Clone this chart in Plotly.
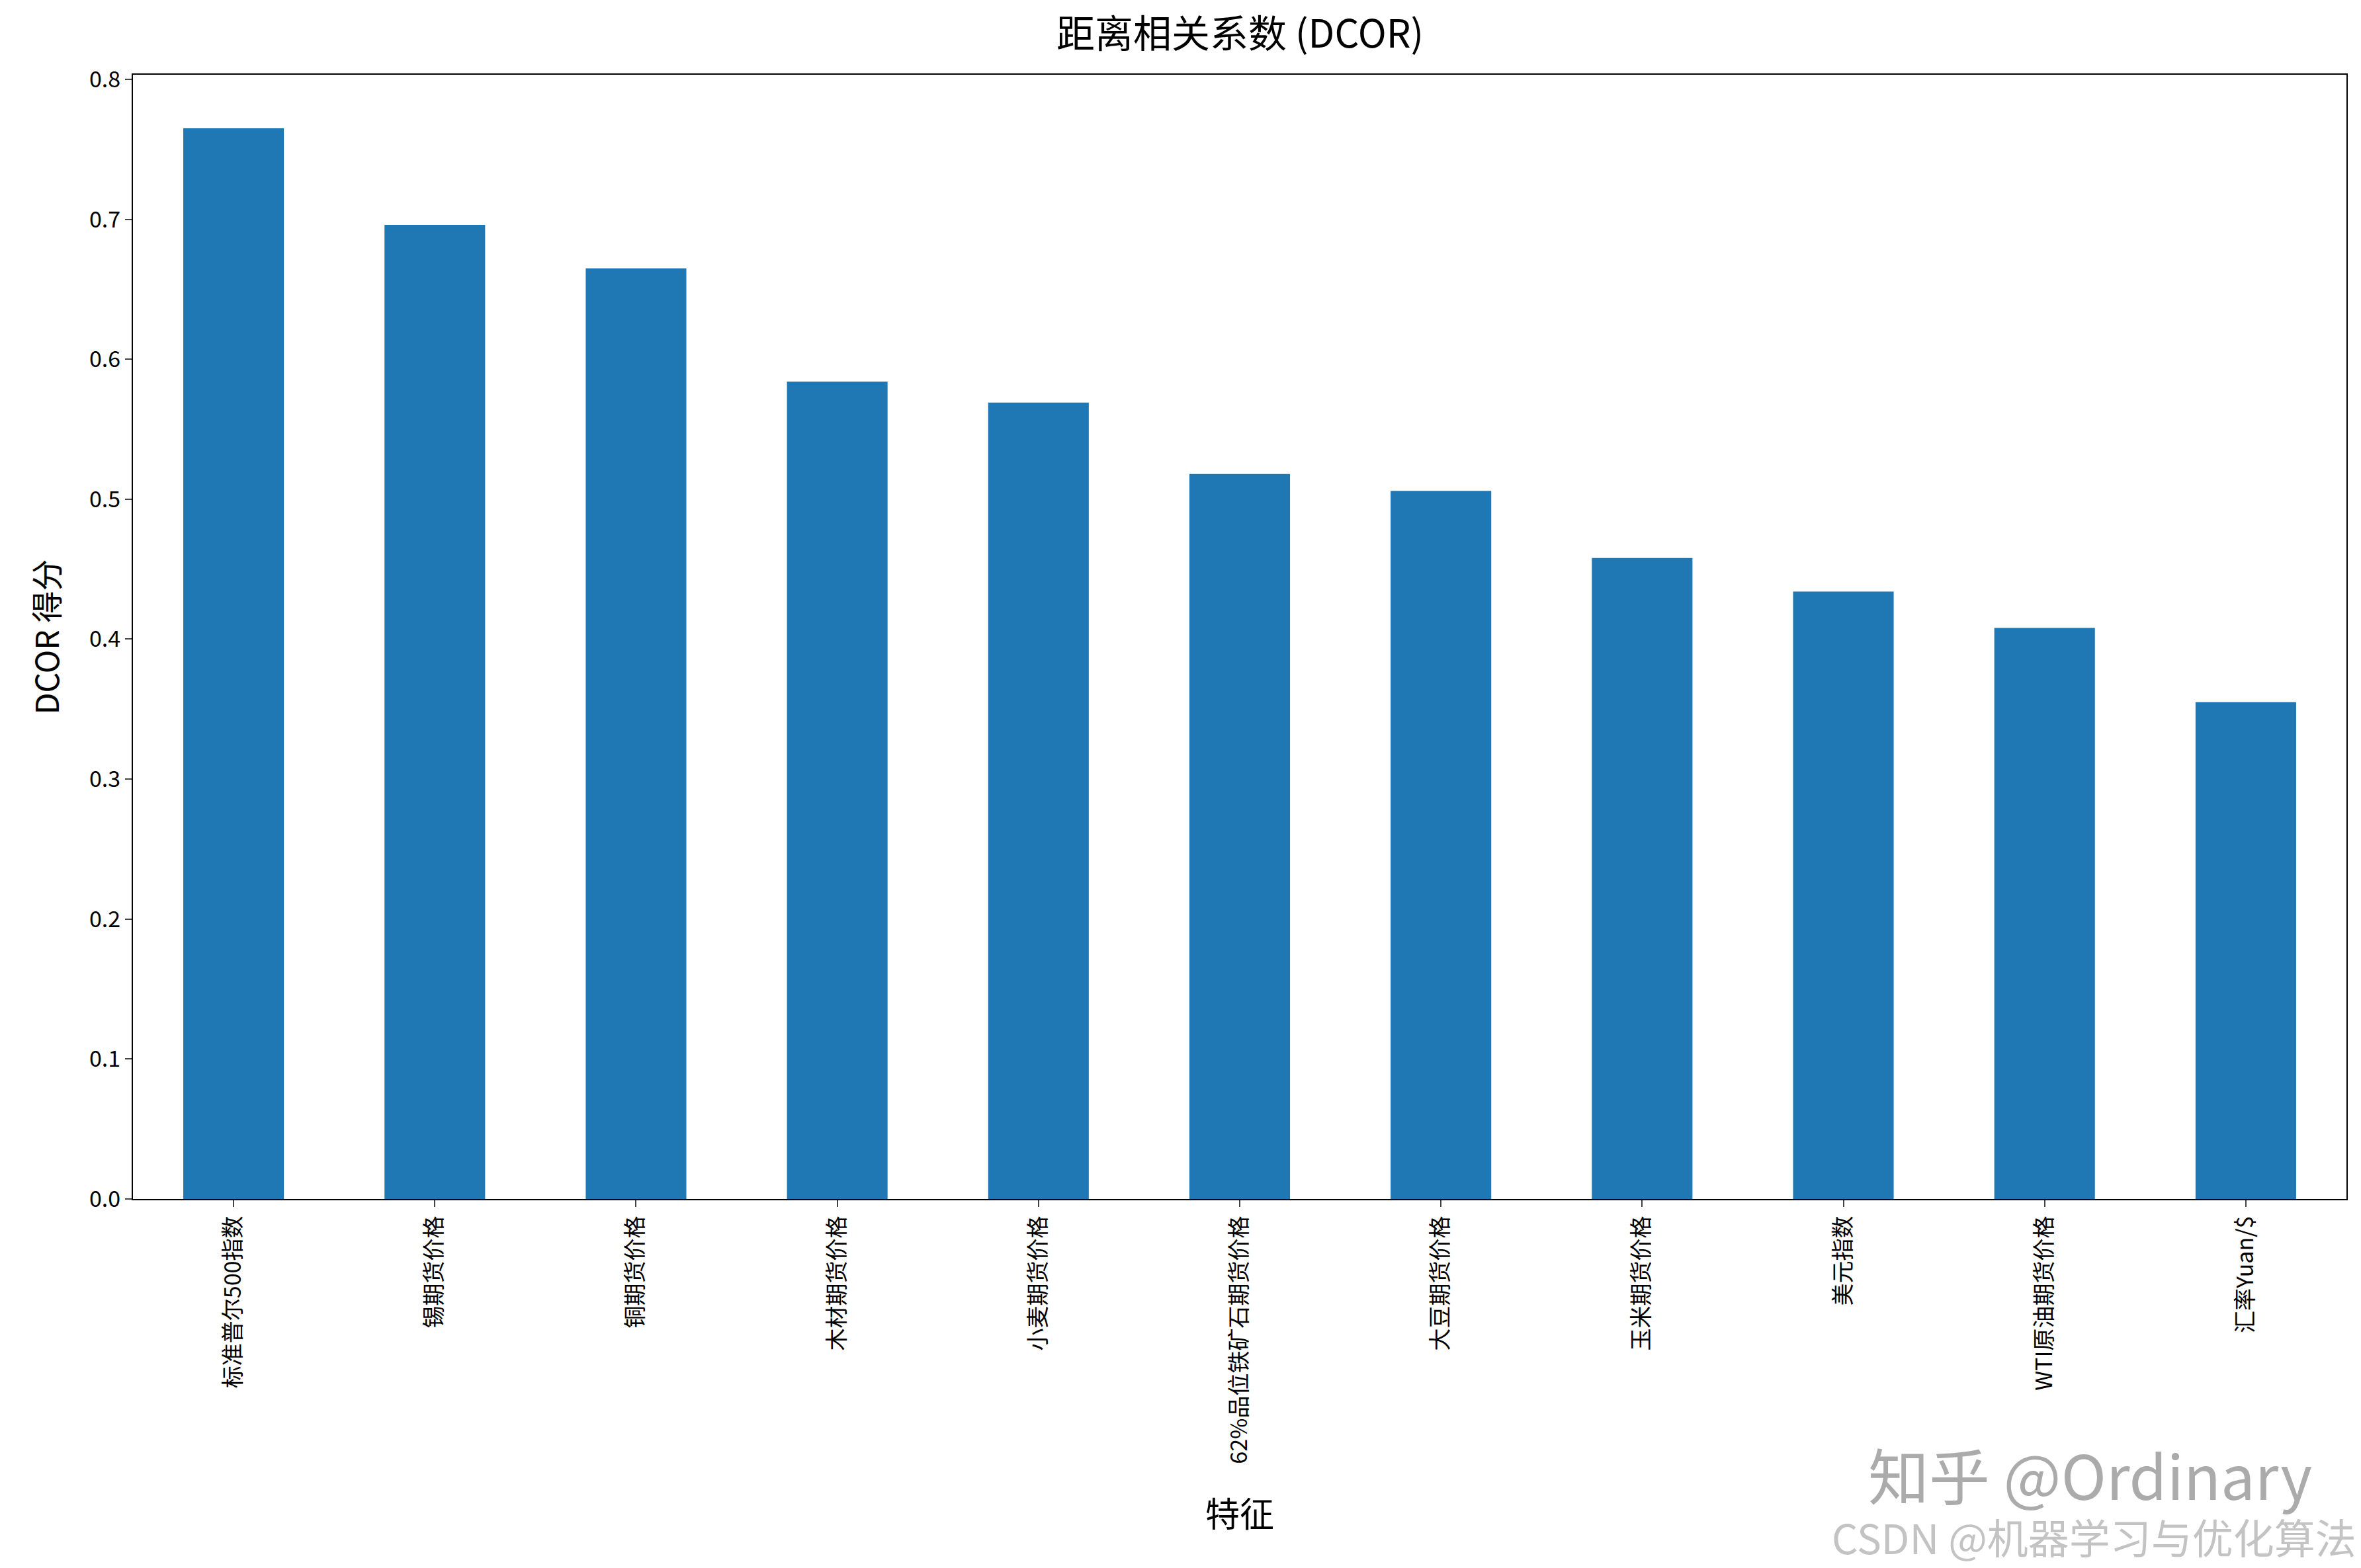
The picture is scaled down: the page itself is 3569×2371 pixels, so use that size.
import plotly.graph_objects as go

features = ["标准普尔500指数", "锡期货价格", "铜期货价格", "木材期货价格", "小麦期货价格",
            "62%品位铁矿石期货价格", "大豆期货价格", "玉米期货价格", "美元指数",
            "WTI原油期货价格", "汇率Yuan/$"]
dcor = [0.765, 0.696, 0.665, 0.584, 0.569, 0.518, 0.506, 0.458, 0.434, 0.408, 0.355]
yticks = [0.0, 0.1, 0.2, 0.3, 0.4, 0.5, 0.6, 0.7, 0.8]

font = "Noto Sans CJK SC"

fig = go.Figure()
fig.add_trace(go.Bar(x=features, y=dcor, width=0.5, marker_color="#1f77b4", marker_line_width=0))

fig.update_layout(
    width=3569, height=2371,
    paper_bgcolor="white", plot_bgcolor="white",
    margin=dict(l=193, r=30, t=105, b=566),
    font=dict(family=font, color="black", size=34),
    title=dict(text="距离相关系数 (DCOR)", x=0.523, xanchor="center", y=0.99, yanchor="top",
               font=dict(size=58)),
    showlegend=False,
)
fig.update_xaxes(
    tickangle=-90, showline=True, linecolor="black", linewidth=2, mirror=True,
    ticks="outside", ticklen=10, tickwidth=2,
    title=dict(text="特征", font=dict(size=52), standoff=60),
    range=[-0.5, 10.5],
)
fig.update_yaxes(
    range=[0, 0.8033], tickvals=yticks, tickformat=".1f",
    showline=True, linecolor="black", linewidth=2, mirror=True,
    ticks="outside", ticklen=10, tickwidth=2, showgrid=False, zeroline=False,
    title=dict(text="DCOR 得分", font=dict(size=48), standoff=30),
)

# watermarks
fig.add_annotation(text="知乎 @Ordinary", x=0.985, y=-0.244, xref="paper", yref="paper",
                   xanchor="right", yanchor="middle", showarrow=False,
                   font=dict(size=92, color="rgba(150,150,150,0.8)", family=font))
fig.add_annotation(text="CSDN @机器学习与优化算法", x=1.005, y=-0.30, xref="paper", yref="paper",
                   xanchor="right", yanchor="middle", showarrow=False,
                   font=dict(size=62, color="rgba(180,180,180,0.8)", family=font))

fig.write_html("out.html")
